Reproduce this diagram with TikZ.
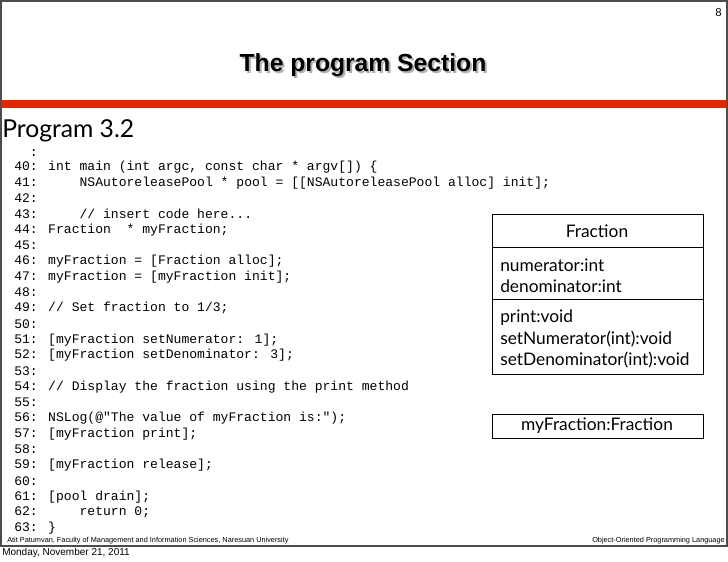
\documentclass[tikz,border=0pt]{standalone}
\usepackage{fontspec}
\setmainfont{Liberation Sans}
\newfontfamily\gill{Lato}
\newfontfamily\codef{Liberation Mono}
\definecolor{slidered}{RGB}{220,40,0}
\begin{document}
\begin{tikzpicture}[x=0.75pt,y=-0.75pt,
  code/.style={anchor=west,inner sep=0pt,font=\codef\fontsize{9.8}{12}\selectfont},
  uml/.style={draw,line width=0.8pt,minimum width=211*0.75pt,anchor=north west,inner sep=0pt},
  umltxt/.style={anchor=west,inner sep=0pt,font=\gill\fontsize{13}{15}\selectfont},
  foot/.style={inner sep=0pt,font=\fontsize{5.5}{6}\selectfont}]
\useasboundingbox (0,0) rectangle (728,561);
\fill[white] (0,0) rectangle (728,561);
\draw[line width=0.8pt,black!70] (1,1) rectangle (727,546);
\node (pg) [anchor=east,inner sep=0pt,font=\fontsize{8.5}{9}\selectfont] at (722,13) {8};
\node[inner sep=0pt,font=\bfseries\fontsize{18.5}{22}\selectfont,text=black!30] at (365,67) {The program Section};
\node (title) [inner sep=0pt,font=\bfseries\fontsize{18.5}{22}\selectfont] at (363,65) {The program Section};
\fill[slidered] (1,100) rectangle (727,108);
\node (prog) [anchor=west,inner sep=0pt,font=\gill\fontsize{18.5}{22}\selectfont] at (2,131) {Program 3.2};
\node (c0) [code] at (14,153) {\ \ :};
\foreach \n/\t [count=\i from 0] in {
40/{int main (int argc, const char * argv[]) \{},
41/{\ \ \ \ NSAutoreleasePool * pool = [[NSAutoreleasePool alloc] init];},
42/{},
43/{\ \ \ \ // insert code here...},
44/{Fraction\ \ * myFraction;},
45/{},
46/{myFraction = [Fraction alloc];},
47/{myFraction = [myFraction init];},
48/{},
49/{// Set fraction to 1/3;},
50/{},
51/{[myFraction setNumerator: 1];},
52/{[myFraction setDenominator: 3];},
53/{},
54/{// Display the fraction using the print method},
55/{},
56/{NSLog(@"The value of myFraction is:");},
57/{[myFraction print];},
58/{},
59/{[myFraction release];},
60/{},
61/{[pool drain];},
62/{\ \ \ \ return 0;},
63/{\}}}
  \node (l\n) [code] at (14,167+15.7*\i) {\n: \t};
\node (hdr) [uml,minimum height=33*0.75pt] at (492,214) {};
\node (attr) [uml,minimum height=52*0.75pt] at (492,247) {};
\node (meth) [uml,minimum height=75*0.75pt] at (492,299) {};
\node (hdrt) [inner sep=0pt,font=\gill\fontsize{13}{15}\selectfont] at (597,231) {Fraction};
\node (a1) [umltxt] at (500,265) {numerator:int};
\node (a2) [umltxt] at (500,286) {denominator:int};
\node (m1) [umltxt] at (500,318) {print:void};
\node (m2) [umltxt] at (500,339) {setNumerator(int):void};
\node (m3) [umltxt] at (500,360) {setDenominator(int):void};
\node (obj) [uml,minimum height=24*0.75pt] at (492,414) {};
\node (objt) [inner sep=0pt,font=\gill\fontsize{13}{15}\selectfont] at (597,426) {myFraction:Fraction};
\node (f1) [foot,anchor=west] at (7,541) {Atit Patumvan, Faculty of Management and Information Sciences, Naresuan University};
\node (f2) [foot,anchor=east] at (725,541) {Object-Oriented Programming Language};
\node (date) [anchor=west,inner sep=0pt,font=\fontsize{7.5}{8}\selectfont] at (2,553) {Monday, November 21, 2011};
\end{tikzpicture}
\end{document}
